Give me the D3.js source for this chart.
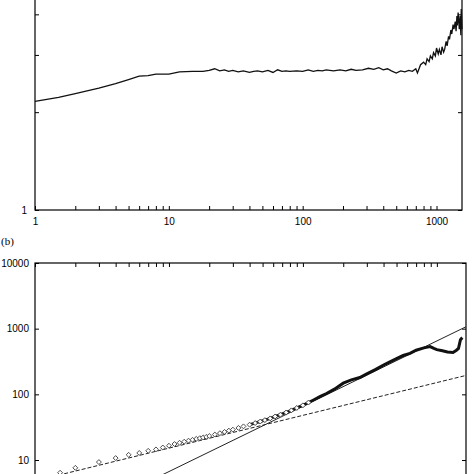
<!DOCTYPE html>
<html><head><meta charset="utf-8">
<script src="https://cdn.jsdelivr.net/npm/d3@7"></script>
<style>body{margin:0;background:#fff}text{font-family:"Liberation Sans",Arial,sans-serif;font-size:10px}</style>
</head><body><svg id="c" width="474" height="474"></svg>
<script>
// panel (a)
var topX = [1,1.5,2,3,4,5,6,7,8,9,10,12,15,18,20,22,24,26,28,30,33,36,40,43,46,50,55,60,65,70,75,80,90,100,110,120,130,140,150,170,190,210,230,250,280,310,340,370,400,430,460,500,540,580,620,660,700,720,760,800,830,850,880,900,930,950,980,1000,1030,1050,1080,1100,1130,1150,1180,1200,1230,1250,1280,1300,1330,1350,1380,1400,1420,1430,1450,1480,1500,1520,1530,1550];
var topY = [2.16,2.22,2.28,2.37,2.45,2.52,2.58,2.59,2.62,2.62,2.62,2.66,2.67,2.67,2.69,2.72,2.68,2.70,2.67,2.69,2.66,2.68,2.65,2.67,2.68,2.66,2.69,2.65,2.70,2.67,2.68,2.67,2.68,2.67,2.70,2.67,2.69,2.68,2.70,2.68,2.70,2.68,2.71,2.69,2.70,2.73,2.71,2.74,2.70,2.72,2.68,2.64,2.68,2.66,2.69,2.67,2.72,2.64,2.80,2.85,2.80,2.92,2.86,2.98,2.92,3.05,2.98,3.15,3.02,3.12,3.00,3.18,3.06,3.12,3.30,3.20,3.42,3.35,3.58,3.48,3.72,3.60,3.80,3.55,3.95,3.70,4.05,3.60,3.95,3.45,4.15,3.60];
// panel (b)
var botX = [1.2,1.54,2,3,4,5,6,7,8,9,10,11,12,13,14,15,16,17,18,19,20,22,24,26,28,30,33,36,40,44,48,52,57,62,68,75,82,90,100,110,120,135,150,172,200,230,266,300,350,400,450,500,560,630,700,800,890,950,1000,1100,1200,1320,1400,1450,1500,1550];
var botY = [5.2,6.4,7.6,9.3,10.7,12,12.8,13.8,14.5,15.5,16.5,17.5,18.3,19,19.7,20.3,21,21.5,22,22.5,23.2,24.4,25.6,26.8,28,29,30.8,32.5,34.5,36.5,38.5,40.5,43,46,49,53,57,62,68,75,82,93,103,120,148,166,180,205,240,280,315,350,390,420,470,510,534,500,480,460,440,434,470,500,680,730];
var fitSolidX = [9,1650], fitSolidY = [6.0,1070];
var fitDashX = [1,1650], fitDashY = [4.8,194];

var svg = d3.select("#c");
var xa = d3.scaleLog().domain([1,1550]).range([35,462]);
var ya = d3.scaleLog().domain([1,10]).range([210,-115]);
function minors(max){
  return d3.range(0,4).flatMap(function(e){return d3.range(1,10).map(function(m){return m*Math.pow(10,e);});}).filter(function(v){return v<=max;});
}
function frame(g,x0,x1,y0,y1){
  g.append("rect").attr("x",x0).attr("y",y0).attr("width",x1-x0).attr("height",y1-y0)
   .attr("fill","none").attr("stroke","#000").attr("stroke-width",1.2);
}
var a = svg.append("g");
frame(a,35,462,-20,210);
a.append("g").attr("transform","translate(0,210)")
 .call(d3.axisBottom(xa).tickValues(minors(1550))
   .tickSize(-4).tickPadding(8).tickFormat(function(d){return [1,10,100,1000].indexOf(d)>=0?d:"";}))
 .call(function(g){g.select(".domain").remove();});
[d3.axisLeft, d3.axisRight].forEach(function(ax,i){
  a.append("g").attr("transform","translate("+(i?462:35)+",0)")
   .call(ax(ya).tickValues([1,2,3,4]).tickSize(-4).tickPadding(8).tickFormat(function(d){return (i==0&&d==1)?"1":"";}))
   .call(function(g){g.select(".domain").remove();});
});
a.append("path").datum(d3.zip(topX,topY)).attr("fill","none").attr("stroke","#111").attr("stroke-width",1.3)
 .attr("d",d3.line().x(function(d){return xa(d[0]);}).y(function(d){return ya(d[1]);}));

svg.append("text").attr("x",1).attr("y",245).style("font-family","Liberation Serif").style("font-size","11px").text("(b)");

var xb = d3.scaleLog().domain([1,1650]).range([35,466]);
var yb = d3.scaleLog().domain([10,10000]).range([460,263]);
var b = svg.append("g");
frame(b,35,466,263,490);
b.append("g").attr("transform","translate(0,263)")
 .call(d3.axisTop(xb).tickValues(minors(1650)).tickSize(-4).tickFormat(""))
 .call(function(g){g.select(".domain").remove();});
[d3.axisLeft, d3.axisRight].forEach(function(ax,i){
  b.append("g").attr("transform","translate("+(i?466:35)+",0)")
   .call(ax(yb).tickValues([10,100,1000,10000]).tickSize(-4).tickPadding(6).tickFormat(function(d){return i==0?d:"";}))
   .call(function(g){g.select(".domain").remove();});
});
var lb = d3.line().x(function(d){return xb(d[0]);}).y(function(d){return yb(d[1]);});
b.append("path").datum(d3.zip(fitDashX,fitDashY)).attr("fill","none").attr("stroke","#222").attr("stroke-dasharray","4,2").attr("d",lb);
b.append("path").datum(d3.zip(fitSolidX,fitSolidY)).attr("fill","none").attr("stroke","#222").attr("stroke-width",1).attr("d",lb);
b.append("path").datum(d3.zip(botX,botY).filter(function(d){return d[0]>=40;})).attr("fill","none").attr("stroke","#111").attr("stroke-width",3).attr("d",lb);
b.selectAll(".dm").data(d3.zip(botX,botY).filter(function(d){return d[0]<120;})).enter().append("path").attr("class","dm")
 .attr("transform",function(d){return "translate("+xb(d[0])+","+yb(d[1])+") rotate(45)";})
 .attr("d",d3.symbol(d3.symbolSquare,12)).attr("fill","#fff").attr("stroke","#444").attr("stroke-width",0.9);
</script></body></html>
